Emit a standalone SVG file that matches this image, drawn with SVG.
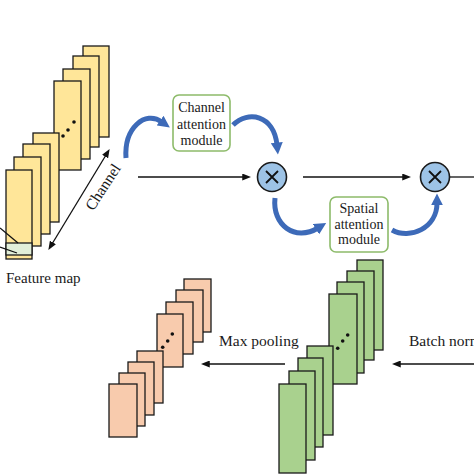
<svg xmlns="http://www.w3.org/2000/svg" width="474" height="474" viewBox="0 0 474 474">
<defs>
<style>
.t{font-family:"Liberation Serif","Times New Roman",serif;fill:#1a1a1a}
.y{fill:#FFE699;stroke:#1a1a1a;stroke-width:1.3}
.o{fill:#F8CBAD;stroke:#1a1a1a;stroke-width:1.3}
.g{fill:#A9D18E;stroke:#1a1a1a;stroke-width:1.3}
.box{fill:#fff;stroke:#8DBB6A;stroke-width:1.6}
.ln{stroke:#111;stroke-width:1.3;fill:none}
.cv{stroke:#3D6AB8;stroke-width:5;fill:none}
.cir{fill:#9DC3E6;stroke:#1a1a1a;stroke-width:1.6}
</style>
<marker id="ah" viewBox="0 0 10 8" refX="2" refY="4" markerWidth="9" markerHeight="7" markerUnits="userSpaceOnUse" orient="auto">
<path d="M0,0 L10,4 L0,8 z" fill="#111"/>
</marker>
<marker id="ahs" viewBox="0 0 10 8" refX="2" refY="4" markerWidth="9" markerHeight="7" markerUnits="userSpaceOnUse" orient="auto-start-reverse">
<path d="M0,0 L10,4 L0,8 z" fill="#111"/>
</marker>
<marker id="bh" viewBox="0 0 10 10" refX="2" refY="5" markerWidth="12" markerHeight="12" markerUnits="userSpaceOnUse" orient="auto">
<path d="M0,0 L10,5 L0,10 z" fill="#3D6AB8"/>
</marker>
</defs>

<g id="feature-map">
<rect class="y" x="83" y="46" width="26" height="91"/>
<rect class="y" x="73" y="56" width="26" height="91"/>
<rect class="y" x="63" y="69" width="27" height="90"/>
<rect class="y" x="54" y="81" width="27" height="89"/>
<circle cx="63" cy="136" r="1.8" fill="#111"/>
<circle cx="68" cy="130" r="1.8" fill="#111"/>
<circle cx="74" cy="122" r="1.8" fill="#111"/>
<rect class="y" x="33" y="133" width="26" height="89"/>
<rect class="y" x="23" y="144" width="27" height="90"/>
<rect class="y" x="14" y="157" width="27" height="89"/>
<rect class="y" x="6" y="170" width="26" height="89"/>
<rect x="6" y="243" width="26" height="12" fill="#E2EFD9" stroke="#1a1a1a" stroke-width="1.3"/>
<line class="ln" x1="0" y1="228" x2="18" y2="243"/>
<line class="ln" x1="0" y1="247" x2="17" y2="253"/>
<text class="t" x="6" y="283" font-size="15">Feature map</text>
</g>

<g id="channel-label">
<line class="ln" x1="52" y1="244" x2="106" y2="155" marker-start="url(#ahs)" marker-end="url(#ah)"/>
<text class="t" font-size="15.5" text-anchor="middle" transform="translate(103,187) rotate(-57)" x="0" y="5">Channel</text>
</g>

<g id="channel-attention">
<rect class="box" x="173" y="95" width="57" height="56" rx="6"/>
<text class="t" font-size="14" text-anchor="middle" x="201.5" y="112">Channel</text>
<text class="t" font-size="14" text-anchor="middle" x="201.5" y="129">attention</text>
<text class="t" font-size="14" text-anchor="middle" x="201.5" y="145">module</text>
</g>

<g id="spatial-attention">
<rect class="box" x="330" y="197" width="58" height="55" rx="6"/>
<text class="t" font-size="14" text-anchor="middle" x="359" y="213">Spatial</text>
<text class="t" font-size="14" text-anchor="middle" x="359" y="229">attention</text>
<text class="t" font-size="14" text-anchor="middle" x="359" y="244">module</text>
</g>

<g id="mult1">
<circle class="cir" cx="272" cy="177" r="14.5"/>
<path d="M266,171 L278,183 M278,171 L266,183" stroke="#111" stroke-width="1.8"/>
</g>
<g id="mult2">
<circle class="cir" cx="435" cy="177" r="14.5"/>
<path d="M429,171 L441,183 M441,171 L429,183" stroke="#111" stroke-width="1.8"/>
</g>

<g id="pooled-map">
<rect class="o" x="184" y="279" width="27" height="53"/>
<rect class="o" x="176" y="290" width="27" height="52"/>
<rect class="o" x="166" y="302" width="27" height="52"/>
<rect class="o" x="157" y="314" width="26" height="53"/>
<circle cx="162.7" cy="347.3" r="1.8" fill="#111"/>
<circle cx="167.7" cy="341" r="1.8" fill="#111"/>
<circle cx="172.3" cy="334" r="1.8" fill="#111"/>
<rect class="o" x="137" y="351" width="26" height="52"/>
<rect class="o" x="128" y="362" width="26" height="53"/>
<rect class="o" x="119" y="373" width="26" height="53"/>
<rect class="o" x="109" y="384" width="28" height="53"/>
</g>

<g id="bn-map">
<rect class="g" x="357" y="260" width="26" height="90"/>
<rect class="g" x="347" y="271" width="27" height="89"/>
<rect class="g" x="337" y="282" width="27" height="91"/>
<rect class="g" x="329" y="294" width="28" height="90"/>
<circle cx="337.7" cy="348.3" r="1.8" fill="#111"/>
<circle cx="342.7" cy="341" r="1.8" fill="#111"/>
<circle cx="347.7" cy="335" r="1.8" fill="#111"/>
<rect class="g" x="307" y="346" width="26" height="89"/>
<rect class="g" x="298" y="358" width="25" height="89"/>
<rect class="g" x="289" y="371" width="26" height="89"/>
<rect class="g" x="279" y="384" width="27" height="89"/>
</g>

<g id="labels">
<text class="t" font-size="15.5" x="219" y="346">Max pooling</text>
<text class="t" font-size="15.5" x="409" y="346">Batch norm</text>
</g>

<g id="connectors">
<line class="ln" x1="138" y1="177" x2="244" y2="177" marker-end="url(#ah)"/>
<line class="ln" x1="303" y1="177" x2="404" y2="177" marker-end="url(#ah)"/>
<line class="ln" x1="450" y1="177" x2="474" y2="177"/>
<line class="ln" x1="285" y1="364" x2="208" y2="364" marker-end="url(#ah)"/>
<line class="ln" x1="474" y1="364" x2="399" y2="364" marker-end="url(#ah)"/>
<path class="cv" d="M126,158 C124,128 145,110 162,122" marker-end="url(#bh)"/>
<path class="cv" d="M233,125 C248,110 274,115 277,145" marker-end="url(#bh)"/>
<path class="cv" d="M275,198 C272,225 295,242 318,228" marker-end="url(#bh)"/>
<path class="cv" d="M392,230 C410,240 437,228 437,203" marker-end="url(#bh)"/>
</g>
</svg>
